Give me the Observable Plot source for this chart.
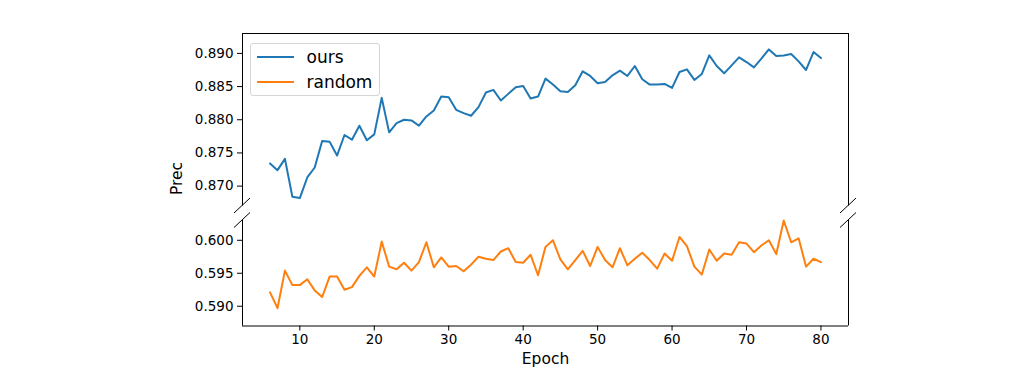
<!DOCTYPE html>
<html>
<head>
<meta charset="utf-8">
<script src="https://cdn.jsdelivr.net/npm/d3@7"></script>
<script src="https://cdn.jsdelivr.net/npm/@observablehq/plot@0.6"></script>
<style>
  html, body { margin: 0; padding: 0; background: white; }
  #wrap { position: relative; width: 1032px; height: 368px; font-family: "DejaVu Sans", sans-serif; }
  #wrap svg { position: absolute; left: 0; }
  #legend { position: absolute; left: 249.5px; top: 42.5px; width: 130px; height: 53px;
    border: 1px solid #d5d5d5; border-radius: 3px; background: rgba(255,255,255,0.85); box-sizing: border-box; }
  .lg-row { position: absolute; left: 0; height: 20px; display: flex; align-items: center; }
  .lg-swatch { display: inline-block; width: 37px; height: 2px; margin-left: 6px; margin-right: 13px; }
  .lg-text { font-size: 17px; color: #000; line-height: 20px; }
</style>
</head>
<body>
<div id="wrap">
  <div id="legend"></div>
</div>
<script>
const epochs = [6,7,8,9,10,11,12,13,14,15,16,17,18,19,20,21,22,23,24,25,26,27,28,29,30,31,32,33,34,35,36,37,38,39,40,41,42,43,44,45,46,47,48,49,50,51,52,53,54,55,56,57,58,59,60,61,62,63,64,65,66,67,68,69,70,71,72,73,74,75,76,77,78,79,80];
const ours = [0.8734,0.8724,0.8741,0.8684,0.8682,0.8713,0.8728,0.8768,0.8767,0.8746,0.8777,0.8770,0.8791,0.8769,0.8778,0.8833,0.8781,0.8795,0.8800,0.8799,0.8791,0.8805,0.8814,0.8835,0.8834,0.8815,0.8810,0.8806,0.8819,0.8841,0.8845,0.8829,0.8839,0.8849,0.8851,0.8832,0.8835,0.8862,0.8853,0.8843,0.8842,0.8852,0.8873,0.8866,0.8855,0.8857,0.8867,0.8874,0.8866,0.8881,0.8861,0.8853,0.8853,0.8854,0.8848,0.8872,0.8876,0.8860,0.8869,0.8897,0.8881,0.8870,0.8882,0.8894,0.8887,0.8879,0.8892,0.8906,0.8896,0.8897,0.8899,0.8888,0.8875,0.8902,0.8893];
const random = [0.5921,0.5897,0.5954,0.5932,0.5932,0.5941,0.5924,0.5914,0.5945,0.5945,0.5925,0.5929,0.5946,0.5959,0.5945,0.5998,0.5960,0.5956,0.5966,0.5954,0.5967,0.5997,0.5959,0.5974,0.5960,0.5961,0.5953,0.5963,0.5975,0.5972,0.5970,0.5983,0.5988,0.5967,0.5966,0.5978,0.5947,0.5990,0.6000,0.5971,0.5956,0.5970,0.5984,0.5961,0.5990,0.5970,0.5959,0.5988,0.5962,0.5972,0.5981,0.5970,0.5957,0.5980,0.5969,0.6005,0.5991,0.5960,0.5948,0.5986,0.5969,0.5980,0.5978,0.5997,0.5995,0.5982,0.5992,0.6000,0.5979,0.6030,0.5997,0.6003,0.5960,0.5972,0.5967];
const seriesNames = ["ours", "random"];
const seriesColors = ["#1f77b4", "#ff7f0e"];
const xTicks = [10, 20, 30, 40, 50, 60, 70, 80];
const topTicks = [0.870, 0.875, 0.880, 0.885, 0.890];
const bottomTicks = [0.590, 0.595, 0.600];
const xDomain = [2.3, 83.7];
const topDomain = [0.867, 0.893];
const bottomDomain = [0.587, 0.603];

const oursData = epochs.map((e, i) => ({epoch: e, value: ours[i]}));
const randomData = epochs.map((e, i) => ({epoch: e, value: random[i]}));

const W = 1032, ML = 242, MR = 184;
const plotStyle = {fontFamily: "DejaVu Sans, sans-serif", fontSize: "13.5px", color: "#000", background: "transparent", overflow: "visible"};
const fmt = d3.format(".3f");

function breakMarks(edge) {
  return (index, scales, values, dims) => {
    const g = d3.create("svg:g");
    const y = edge === "bottom" ? dims.height - dims.marginBottom : dims.marginTop;
    for (const x of [dims.marginLeft, dims.width - dims.marginRight]) {
      g.append("line").attr("x1", x - 8).attr("y1", y + 7.5).attr("x2", x + 8).attr("y2", y - 7.5)
        .attr("stroke", "#000").attr("stroke-width", 1);
    }
    return g.node();
  };
}

const topPlot = Plot.plot({
  width: W, height: 216,
  marginLeft: ML, marginRight: MR, marginTop: 33, marginBottom: 10.5,
  style: plotStyle,
  x: {domain: xDomain, axis: null},
  y: {domain: topDomain, axis: null},
  marks: [
    Plot.ruleX([xDomain[0], xDomain[1]], {stroke: "#000", strokeWidth: 1}),
    Plot.ruleY([topDomain[1]], {stroke: "#000", strokeWidth: 1}),
    Plot.axisY(topTicks, {tickFormat: fmt, tickSize: 5, tickPadding: 4, label: null, stroke: "#000", fill: "#000"}),
    Plot.line(oursData, {x: "epoch", y: "value", stroke: seriesColors[0], strokeWidth: 2}),
    Plot.text(["Prec"], {text: d => d, frameAnchor: "left", rotate: -90, dx: -65, dy: 58.75, fontSize: 15.5, fill: "#000", textAnchor: "middle", lineAnchor: "middle"}),
    breakMarks("bottom")
  ]
});
topPlot.style.top = "0px";

const bottomPlot = Plot.plot({
  width: W, height: 160,
  marginLeft: ML, marginRight: MR, marginTop: 12, marginBottom: 42.5,
  style: plotStyle,
  x: {domain: xDomain, axis: null},
  y: {domain: bottomDomain, axis: null},
  marks: [
    Plot.ruleX([xDomain[0], xDomain[1]], {stroke: "#000", strokeWidth: 1}),
    Plot.ruleY([bottomDomain[0]], {stroke: "#000", strokeWidth: 1}),
    Plot.axisY(bottomTicks, {tickFormat: fmt, tickSize: 5, tickPadding: 4, label: null, stroke: "#000", fill: "#000"}),
    Plot.axisX(xTicks, {tickFormat: d => String(d), tickSize: 5, tickPadding: 3, label: null, stroke: "#000", fill: "#000"}),
    Plot.line(randomData, {x: "epoch", y: "value", stroke: seriesColors[1], strokeWidth: 2}),
    Plot.text(["Epoch"], {text: d => d, frameAnchor: "bottom", dy: 33, fontSize: 15.5, fill: "#000", lineAnchor: "middle"}),
    breakMarks("top")
  ]
});
bottomPlot.style.top = "208px";

const wrap = document.getElementById("wrap");
wrap.insertBefore(bottomPlot, wrap.firstChild);
wrap.insertBefore(topPlot, wrap.firstChild);

const legend = document.getElementById("legend");
seriesNames.forEach((name, i) => {
  const row = document.createElement("div");
  row.className = "lg-row";
  row.style.top = (i === 0 ? 3 : 28) + "px";
  const sw = document.createElement("span");
  sw.className = "lg-swatch";
  sw.style.background = seriesColors[i];
  const tx = document.createElement("span");
  tx.className = "lg-text";
  tx.textContent = name;
  row.appendChild(sw); row.appendChild(tx);
  legend.appendChild(row);
});
</script>
</body>
</html>
